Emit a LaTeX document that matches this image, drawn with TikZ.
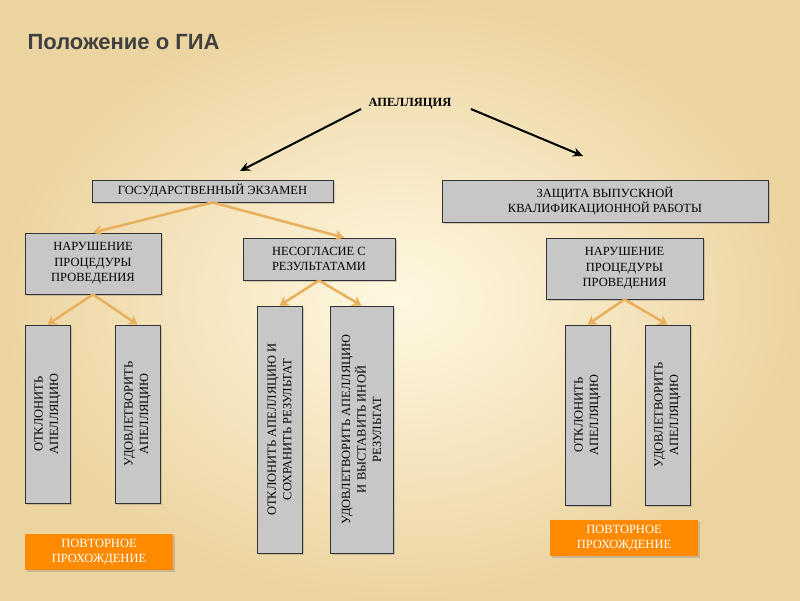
\documentclass[tikz,border=0pt]{standalone}
\usepackage{fontspec}
\setmainfont{Liberation Serif}
\setsansfont{Liberation Sans}
\usetikzlibrary{arrows.meta,shadows}
\begin{document}
\begin{tikzpicture}[x=1pt,y=-1pt,
 box/.style={draw=black!80,fill=black!22,line width=0.8pt,align=center,font=\fontsize{12.5}{15.5}\selectfont,inner sep=2pt,drop shadow={opacity=0.35,shadow xshift=2pt,shadow yshift=-2pt}},
 vbox/.style={box,rotate=90},
 obox/.style={fill=orange!85!red!80!yellow,draw=none,text=white,align=center,font=\fontsize{12.5}{15.5}\selectfont,drop shadow={opacity=0.35,shadow xshift=2pt,shadow yshift=-2pt}},
 oarr/.style={draw={rgb,255:red,232;green,176;blue,92},line width=2.5pt,-{Stealth[length=9pt,width=11pt]}},
 barr/.style={draw=black,line width=2pt,-{Stealth[length=10pt,width=9pt]}}]
\shade[inner color={rgb,255:red,255;green,248;blue,225},outer color={rgb,255:red,236;green,212;blue,160}] (0,0) rectangle (800,600);
\useasboundingbox (0,0) rectangle (800,600);
\node[anchor=west,font=\fontsize{22}{26}\selectfont\bfseries\sffamily,text=black!75] (title) at (24,42) {Положение о ГИА};
\node[font=\fontsize{12.5}{15}\selectfont\bfseries] (ap) at (410,104) {АПЕЛЛЯЦИЯ};
\node[box,minimum width=241,minimum height=22] (gos) at (212.5,191) {ГОСУДАРСТВЕННЫЙ ЭКЗАМЕН};
\node[box,minimum width=326,minimum height=42] (zas) at (605,201) {ЗАЩИТА ВЫПУСКНОЙ\\КВАЛИФИКАЦИОННОЙ РАБОТЫ};
\node[box,minimum width=136,minimum height=61] (n1) at (93,263.5) {НАРУШЕНИЕ\\ПРОЦЕДУРЫ\\ПРОВЕДЕНИЯ};
\node[box,minimum width=152,minimum height=42] (nes) at (319,259) {НЕСОГЛАСИЕ С\\РЕЗУЛЬТАТАМИ};
\node[box,minimum width=157,minimum height=61] (n2) at (624.5,268.5) {НАРУШЕНИЕ\\ПРОЦЕДУРЫ\\ПРОВЕДЕНИЯ};
\node[vbox,minimum width=178,minimum height=45] (v1) at (47.5,414) {ОТКЛОНИТЬ\\АПЕЛЛЯЦИЮ};
\node[vbox,minimum width=178,minimum height=45] (v2) at (137.5,414) {УДОВЛЕТВОРИТЬ\\АПЕЛЛЯЦИЮ};
\node[vbox,minimum width=247,minimum height=45] (v3) at (279.5,429.5) {ОТКЛОНИТЬ АПЕЛЛЯЦИЮ И\\СОХРАНИТЬ РЕЗУЛЬТАТ};
\node[vbox,minimum width=247,minimum height=63] (v4) at (361.5,429.5) {УДОВЛЕТВОРИТЬ АПЕЛЛЯЦИЮ\\И ВЫСТАВИТЬ ИНОЙ\\РЕЗУЛЬТАТ};
\node[vbox,minimum width=180,minimum height=45] (v5) at (587.5,415) {ОТКЛОНИТЬ\\АПЕЛЛЯЦИЮ};
\node[vbox,minimum width=180,minimum height=45] (v6) at (667.5,415) {УДОВЛЕТВОРИТЬ\\АПЕЛЛЯЦИЮ};
\node[obox,minimum width=148,minimum height=36] (o1) at (99,552) {ПОВТОРНОЕ\\ПРОХОЖДЕНИЕ};
\node[obox,minimum width=148,minimum height=36] (o2) at (624,538) {ПОВТОРНОЕ\\ПРОХОЖДЕНИЕ};
\draw[barr] ([xshift=-4,yshift=4]ap.south west) -- (240,171);
\draw[barr] ([xshift=16,yshift=4]ap.south east) -- (583,156);
\draw[oarr] (gos.south) -- (n1.north);
\draw[oarr] (gos.south) -- ([xshift=25]nes.north);
\draw[oarr] (n1.south) -- (v1.east);
\draw[oarr] (n1.south) -- (v2.east);
\draw[oarr] (nes.south) -- (v3.east);
\draw[oarr] (nes.south) -- (v4.east);
\draw[oarr] (n2.south) -- (v5.east);
\draw[oarr] (n2.south) -- (v6.east);
\end{tikzpicture}
\end{document}
